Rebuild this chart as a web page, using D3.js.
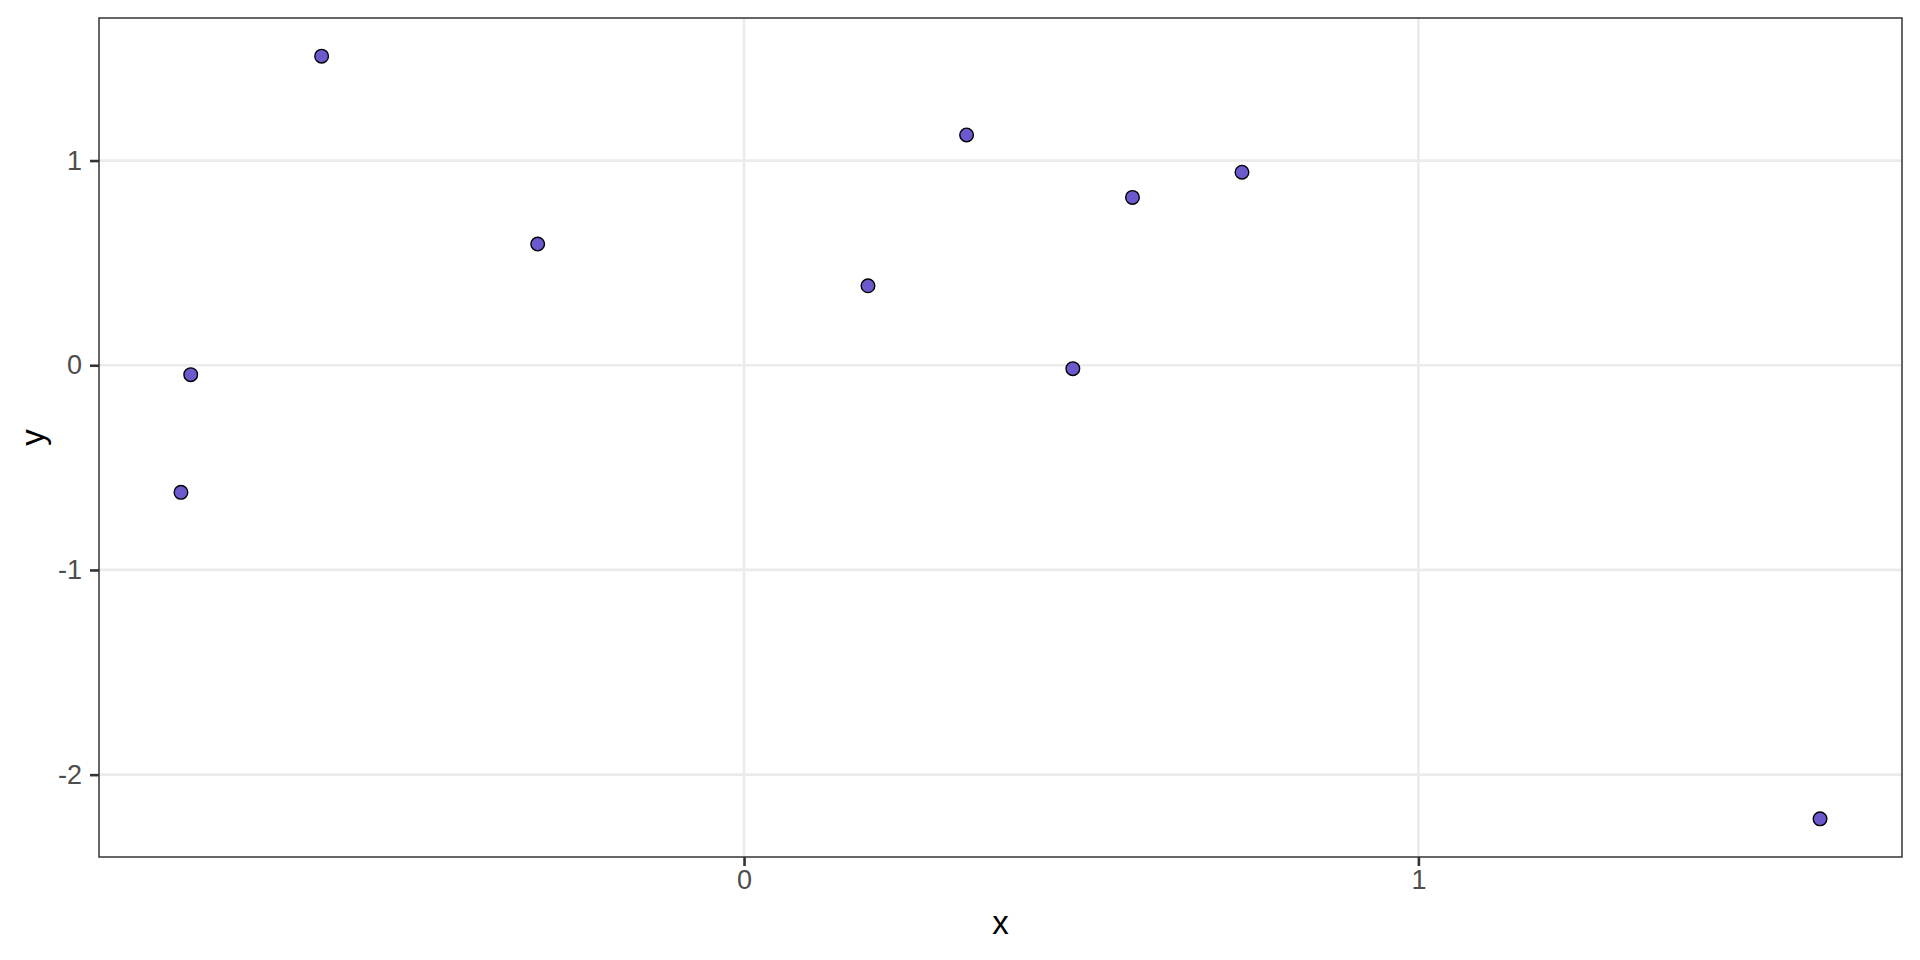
<!DOCTYPE html>
<html>
<head>
<meta charset="utf-8">
<script src="https://cdn.jsdelivr.net/npm/d3@7"></script>
<style>
  html, body { margin: 0; padding: 0; background: #fff; }
  svg { display: block; font-family: "Liberation Sans", Arial, sans-serif; }
</style>
</head>
<body>
<svg id="chart" width="1920" height="960"></svg>
<script>
const xValues = [-0.835, -0.8205, -0.6264, -0.306, 0.1838, 0.330, 0.4876, 0.576, 0.7384, 1.5956];
const yValues = [-0.621, -0.046, 1.510, 0.592, 0.388, 1.125, -0.0166, 0.820, 0.943, -2.216];
const xTicks = [0, 1];
const yTicks = [-2, -1, 0, 1];
const xTitle = "x";
const yTitle = "y";

const W = 1920, H = 960;
const margin = { left: 99, right: 18, top: 18, bottom: 103 };
const svg = d3.select("#chart");
const pw = W - margin.left - margin.right;
const ph = H - margin.top - margin.bottom;

function expand(vals) {
  const [a, b] = d3.extent(vals);
  const e = (b - a) * 0.05;
  return [a - e, b + e];
}
const x = d3.scaleLinear().domain(expand(xValues)).range([0, pw]);
const y = d3.scaleLinear().domain(expand(yValues)).range([ph, 0]);

const g = svg.append("g").attr("transform", `translate(${margin.left},${margin.top})`);

g.append("rect").attr("width", pw).attr("height", ph).attr("fill", "#fff");

// gridlines
g.selectAll(".gx").data(xTicks).enter().append("line")
  .attr("x1", d => x(d)).attr("x2", d => x(d)).attr("y1", 0).attr("y2", ph)
  .attr("stroke", "#EBEBEB").attr("stroke-width", 2.7);
g.selectAll(".gy").data(yTicks).enter().append("line")
  .attr("y1", d => y(d)).attr("y2", d => y(d)).attr("x1", 0).attr("x2", pw)
  .attr("stroke", "#EBEBEB").attr("stroke-width", 2.7);

// points
const pts = xValues.map((v, i) => ({ x: v, y: yValues[i] }));
g.selectAll("circle.pt").data(pts).enter().append("circle")
  .attr("class", "pt")
  .attr("cx", d => x(d.x)).attr("cy", d => y(d.y)).attr("r", 6.8)
  .attr("fill", "#6A5ACD").attr("stroke", "#000").attr("stroke-width", 1.4);

// border
g.append("rect").attr("width", pw).attr("height", ph)
  .attr("fill", "none").attr("stroke", "#333333").attr("stroke-width", 1.5);

// axes
const xAxis = d3.axisBottom(x).tickValues(xTicks).tickSize(9).tickPadding(4).tickFormat(d3.format("d"));
const yAxis = d3.axisLeft(y).tickValues(yTicks).tickSize(9).tickPadding(8).tickFormat(d => d < 0 ? "-" + Math.abs(d) : String(d));

const gx = g.append("g").attr("transform", `translate(0,${ph})`).call(xAxis);
const gy = g.append("g").call(yAxis);
[gx, gy].forEach(a => {
  a.select(".domain").remove();
  a.selectAll(".tick line").attr("stroke", "#333333").attr("stroke-width", 2.6);
  a.selectAll(".tick text").attr("fill", "#4D4D4D").attr("font-size", 27)
    .attr("font-family", "Liberation Sans, Arial, sans-serif");
});

// titles
svg.append("text").attr("x", margin.left + pw / 2).attr("y", 934)
  .attr("text-anchor", "middle").attr("font-size", 33).attr("fill", "#000").text(xTitle);
svg.append("text")
  .attr("transform", `translate(44,${margin.top + ph / 2}) rotate(-90)`)
  .attr("text-anchor", "middle").attr("font-size", 33).attr("fill", "#000").text(yTitle);
</script>
</body>
</html>
